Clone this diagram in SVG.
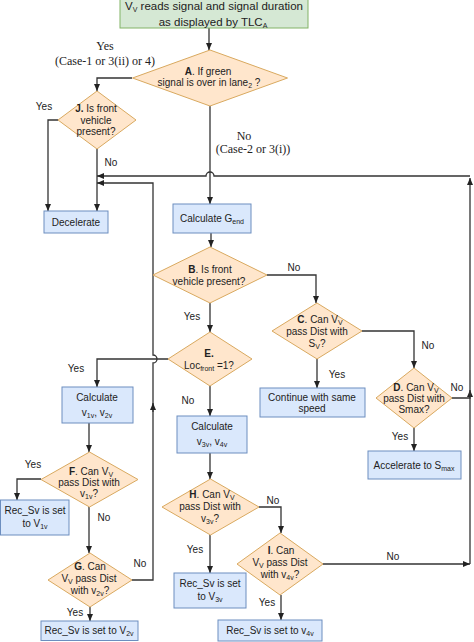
<svg xmlns="http://www.w3.org/2000/svg" width="474" height="642" viewBox="0 0 474 642">
<style>
.box{fill:#dae8fc;stroke:#6c8ebf;stroke-width:1}
.dia{fill:#ffe6cc;stroke:#d9a95f;stroke-width:1}
.start{fill:#d5e8d4;stroke:#82b366;stroke-width:1}
.edge{fill:none;stroke:#333;stroke-width:1.3}
.t{font-family:"Liberation Sans",Arial,sans-serif;font-size:10px;fill:#222;text-anchor:middle}
.big{font-size:11.5px}
.lbl{font-family:"Liberation Sans",Arial,sans-serif;font-size:10px;fill:#222;text-anchor:middle}
.serif{font-family:"Liberation Serif","Times New Roman",serif;font-size:12px;fill:#222;text-anchor:middle}
.b{font-weight:bold}
.s{font-size:7px}
</style>
<defs>
<marker id="arr" viewBox="0 0 7 8" refX="7" refY="4" markerWidth="7" markerHeight="8" orient="auto" markerUnits="userSpaceOnUse"><path d="M0,1 L7,4 L0,7 z" fill="#222"/></marker>
</defs>

<g id="connectors">
<path class="edge" d="M209,28 V50" marker-end="url(#arr)"/>
<path class="edge" d="M132,78 H97 V91" marker-end="url(#arr)"/>
<path class="edge" d="M58,120 H48 V211" marker-end="url(#arr)"/>
<path class="edge" d="M97,149 V211" marker-end="url(#arr)"/>
<path class="edge" d="M210,106 V204" marker-end="url(#arr)"/>
<path class="edge" d="M211,233 V247" marker-end="url(#arr)"/>
<path class="edge" d="M267,275 H316 V303" marker-end="url(#arr)"/>
<path class="edge" d="M210,303 V332" marker-end="url(#arr)"/>
<path class="edge" d="M362,331 H414 V368" marker-end="url(#arr)"/>
<path class="edge" d="M317,359 V388" marker-end="url(#arr)"/>
<path class="edge" d="M414,428 V451" marker-end="url(#arr)"/>
<path class="edge" d="M323,564 H470" marker-end="url(#arr)"/>
<path class="edge" d="M470,564 V390" marker-end="url(#arr)"/>
<path class="edge" d="M452,398 H470 V178" marker-end="url(#arr)"/>
<path class="edge" d="M470,176 H214 A4,4 0 0 0 206,176 H97" marker-end="url(#arr)"/>
<path class="edge" d="M210,386 V416" marker-end="url(#arr)"/>
<path class="edge" d="M168,359 H97 V387" marker-end="url(#arr)"/>
<path class="edge" d="M132,580 H153 V363 A4,4 0 0 0 153,355 V183 H97" marker-end="url(#arr)"/>
<path class="edge" d="M153,412 V403" marker-end="url(#arr)"/>
<path class="edge" d="M89,423 V452" marker-end="url(#arr)"/>
<path class="edge" d="M41,479 H17 V500" marker-end="url(#arr)"/>
<path class="edge" d="M89,507 V553" marker-end="url(#arr)"/>
<path class="edge" d="M90,607 V621" marker-end="url(#arr)"/>
<path class="edge" d="M210,453 V479" marker-end="url(#arr)"/>
<path class="edge" d="M259,507 H281 V533" marker-end="url(#arr)"/>
<path class="edge" d="M210,535 V573" marker-end="url(#arr)"/>
<path class="edge" d="M281,595 V620" marker-end="url(#arr)"/>
</g>

<g id="edge-labels">
<text class="serif" x="105" y="50">Yes</text>
<text class="serif" x="105" y="65">(Case-1 or 3(ii) or 4)</text>
<text class="serif" x="244" y="140">No</text>
<text class="serif" x="253" y="153">(Case-2 or 3(i))</text>
<text class="lbl" x="44" y="110">Yes</text>
<text class="lbl" x="111" y="166">No</text>
<text class="lbl" x="294" y="271">No</text>
<text class="lbl" x="192" y="320" font-size="9">Yes</text>
<text class="lbl" x="428" y="349">No</text>
<text class="lbl" x="337" y="378">Yes</text>
<text class="lbl" x="457" y="391">No</text>
<text class="lbl" x="400" y="440">Yes</text>
<text class="lbl" x="76" y="372">Yes</text>
<text class="lbl" x="188" y="404">No</text>
<text class="lbl" x="33" y="468">Yes</text>
<text class="lbl" x="104" y="521">No</text>
<text class="lbl" x="140" y="567">No</text>
<text class="lbl" x="75" y="616">Yes</text>
<text class="lbl" x="273" y="504">No</text>
<text class="lbl" x="195" y="553">Yes</text>
<text class="lbl" x="393" y="560">No</text>
<text class="lbl" x="267" y="606">Yes</text>
</g>

<g id="start">
<rect class="start" x="120" y="-2" width="188" height="30"/>
<text class="t big" x="214" y="10">V<tspan class="s" dy="2">V</tspan><tspan dy="-2"> reads signal and signal duration</tspan></text>
<text class="t big" x="213" y="26">as displayed by TLC<tspan class="s" dy="2">A</tspan></text>
</g>

<g id="A">
<polygon class="dia" points="210,50 287.5,78 210,106 132.5,78"/>
<text class="t" x="208" y="75"><tspan class="b">A</tspan>. If green</text>
<text class="t" x="209" y="86">signal is over in lane<tspan class="s" dy="2">2</tspan><tspan dy="-2"> ?</tspan></text>
</g>

<g id="J">
<polygon class="dia" points="97,91 136,120 97,149 58,120"/>
<text class="t" x="96" y="112"><tspan class="b">J.</tspan> Is front</text>
<text class="t" x="96" y="124">vehicle</text>
<text class="t" x="96" y="135">present?</text>
</g>

<g id="decelerate">
<rect class="box" x="44" y="211" width="64" height="22"/>
<text class="t" x="76" y="226">Decelerate</text>
</g>

<g id="gend">
<rect class="box" x="173" y="204" width="78" height="29"/>
<text class="t" x="212" y="222">Calculate G<tspan class="s" dy="2">end</tspan></text>
</g>

<g id="B">
<polygon class="dia" points="210,247 267,275 210,303 153,275"/>
<text class="t" x="210" y="273"><tspan class="b">B</tspan>. Is front</text>
<text class="t" x="209" y="285">vehicle present?</text>
</g>

<g id="C">
<polygon class="dia" points="317,303 362,331 317,359 272,331"/>
<text class="t" x="320" y="323"><tspan class="b">C</tspan>. Can V<tspan class="s" dy="2">V</tspan></text>
<text class="t" x="317" y="335">pass Dist with</text>
<text class="t" x="317" y="347">S<tspan class="s" dy="2">V</tspan><tspan dy="-2">?</tspan></text>
</g>

<g id="E">
<polygon class="dia" points="210,332 252,359 210,386 168,359"/>
<text class="t b" x="209" y="357">E.</text>
<text class="t" x="209" y="369">Loc<tspan class="s" dy="2">front</tspan><tspan dy="-2"> =1?</tspan></text>
</g>

<g id="continue">
<rect class="box" x="260" y="388" width="105" height="29"/>
<text class="t" x="312" y="401">Continue with same</text>
<text class="t" x="312" y="412">speed</text>
</g>

<g id="D">
<polygon class="dia" points="414,368 452,398 414,428 376,398"/>
<text class="t" x="416" y="391"><tspan class="b">D</tspan>. Can V<tspan class="s" dy="2">V</tspan></text>
<text class="t" x="414" y="402">pass Dist with</text>
<text class="t" x="414" y="413">Smax?</text>
</g>

<g id="accelerate">
<rect class="box" x="368" y="451" width="93" height="28"/>
<text class="t" x="414" y="469">Accelerate to S<tspan class="s" font-size="8" dy="2">max</tspan></text>
</g>

<g id="calc12">
<rect class="box" x="62" y="387" width="71" height="36"/>
<text class="t" x="97" y="401" font-size="12">Calculate</text>
<text class="t" x="97" y="416" font-size="12">v<tspan class="s" font-size="8" dy="2">1v</tspan><tspan dy="-2">, v</tspan><tspan class="s" font-size="8" dy="2">2v</tspan></text>
</g>

<g id="calc34">
<rect class="box" x="177" y="416" width="70" height="37"/>
<text class="t" x="212" y="430" font-size="12">Calculate</text>
<text class="t" x="212" y="445" font-size="12">v<tspan class="s" font-size="8" dy="2">3v</tspan><tspan dy="-2">, v</tspan><tspan class="s" font-size="8" dy="2">4v</tspan></text>
</g>

<g id="F">
<polygon class="dia" points="89.5,452 138,479.5 89.5,507 41,479.5"/>
<text class="t" x="91" y="475"><tspan class="b">F</tspan>. Can V<tspan class="s" dy="2">V</tspan></text>
<text class="t" x="89" y="486">pass Dist with</text>
<text class="t" x="89" y="497">v<tspan class="s" dy="2">1v</tspan><tspan dy="-2">?</tspan></text>
</g>

<g id="rec1">
<rect class="box" x="0.5" y="500" width="68.5" height="35"/>
<text class="t" x="35" y="514">Rec_Sv is set</text>
<text class="t" x="35" y="527">to V<tspan class="s" dy="2">1v</tspan></text>
</g>

<g id="G">
<polygon class="dia" points="90,553 132,580 90,607 48,580"/>
<text class="t" x="90" y="570"><tspan class="b">G</tspan>. Can</text>
<text class="t" x="89" y="582">V<tspan class="s" dy="2">V</tspan><tspan dy="-2"> pass Dist</tspan></text>
<text class="t" x="90" y="594">with v<tspan class="s" dy="2">2v</tspan><tspan dy="-2">?</tspan></text>
</g>

<g id="rec2">
<rect class="box" x="41" y="621" width="97" height="19.5"/>
<text class="t" x="89" y="634">Rec_Sv is set to V<tspan class="s" dy="2">2v</tspan></text>
</g>

<g id="H">
<polygon class="dia" points="210.5,479 259,507 210.5,535 162,507"/>
<text class="t" x="212" y="498"><tspan class="b">H</tspan>. Can V<tspan class="s" dy="2">V</tspan></text>
<text class="t" x="210" y="510">pass Dist with</text>
<text class="t" x="210" y="522">v<tspan class="s" dy="2">3v</tspan><tspan dy="-2">?</tspan></text>
</g>

<g id="rec3">
<rect class="box" x="174" y="573" width="72" height="35"/>
<text class="t" x="210" y="587">Rec_Sv is set</text>
<text class="t" x="210" y="600">to V<tspan class="s" dy="2">3v</tspan></text>
</g>

<g id="I">
<polygon class="dia" points="280,533 323,564 280,595 237,564"/>
<text class="t" x="281" y="554"><tspan class="b">I</tspan>. Can</text>
<text class="t" x="280" y="566">V<tspan class="s" dy="2">V</tspan><tspan dy="-2"> pass Dist</tspan></text>
<text class="t" x="280" y="578">with v<tspan class="s" dy="2">4v</tspan><tspan dy="-2">?</tspan></text>
</g>

<g id="rec4">
<rect class="box" x="218" y="620" width="104" height="21"/>
<text class="t" x="270" y="634">Rec_Sv is set to v<tspan class="s" dy="2">4v</tspan></text>
</g>
</svg>
